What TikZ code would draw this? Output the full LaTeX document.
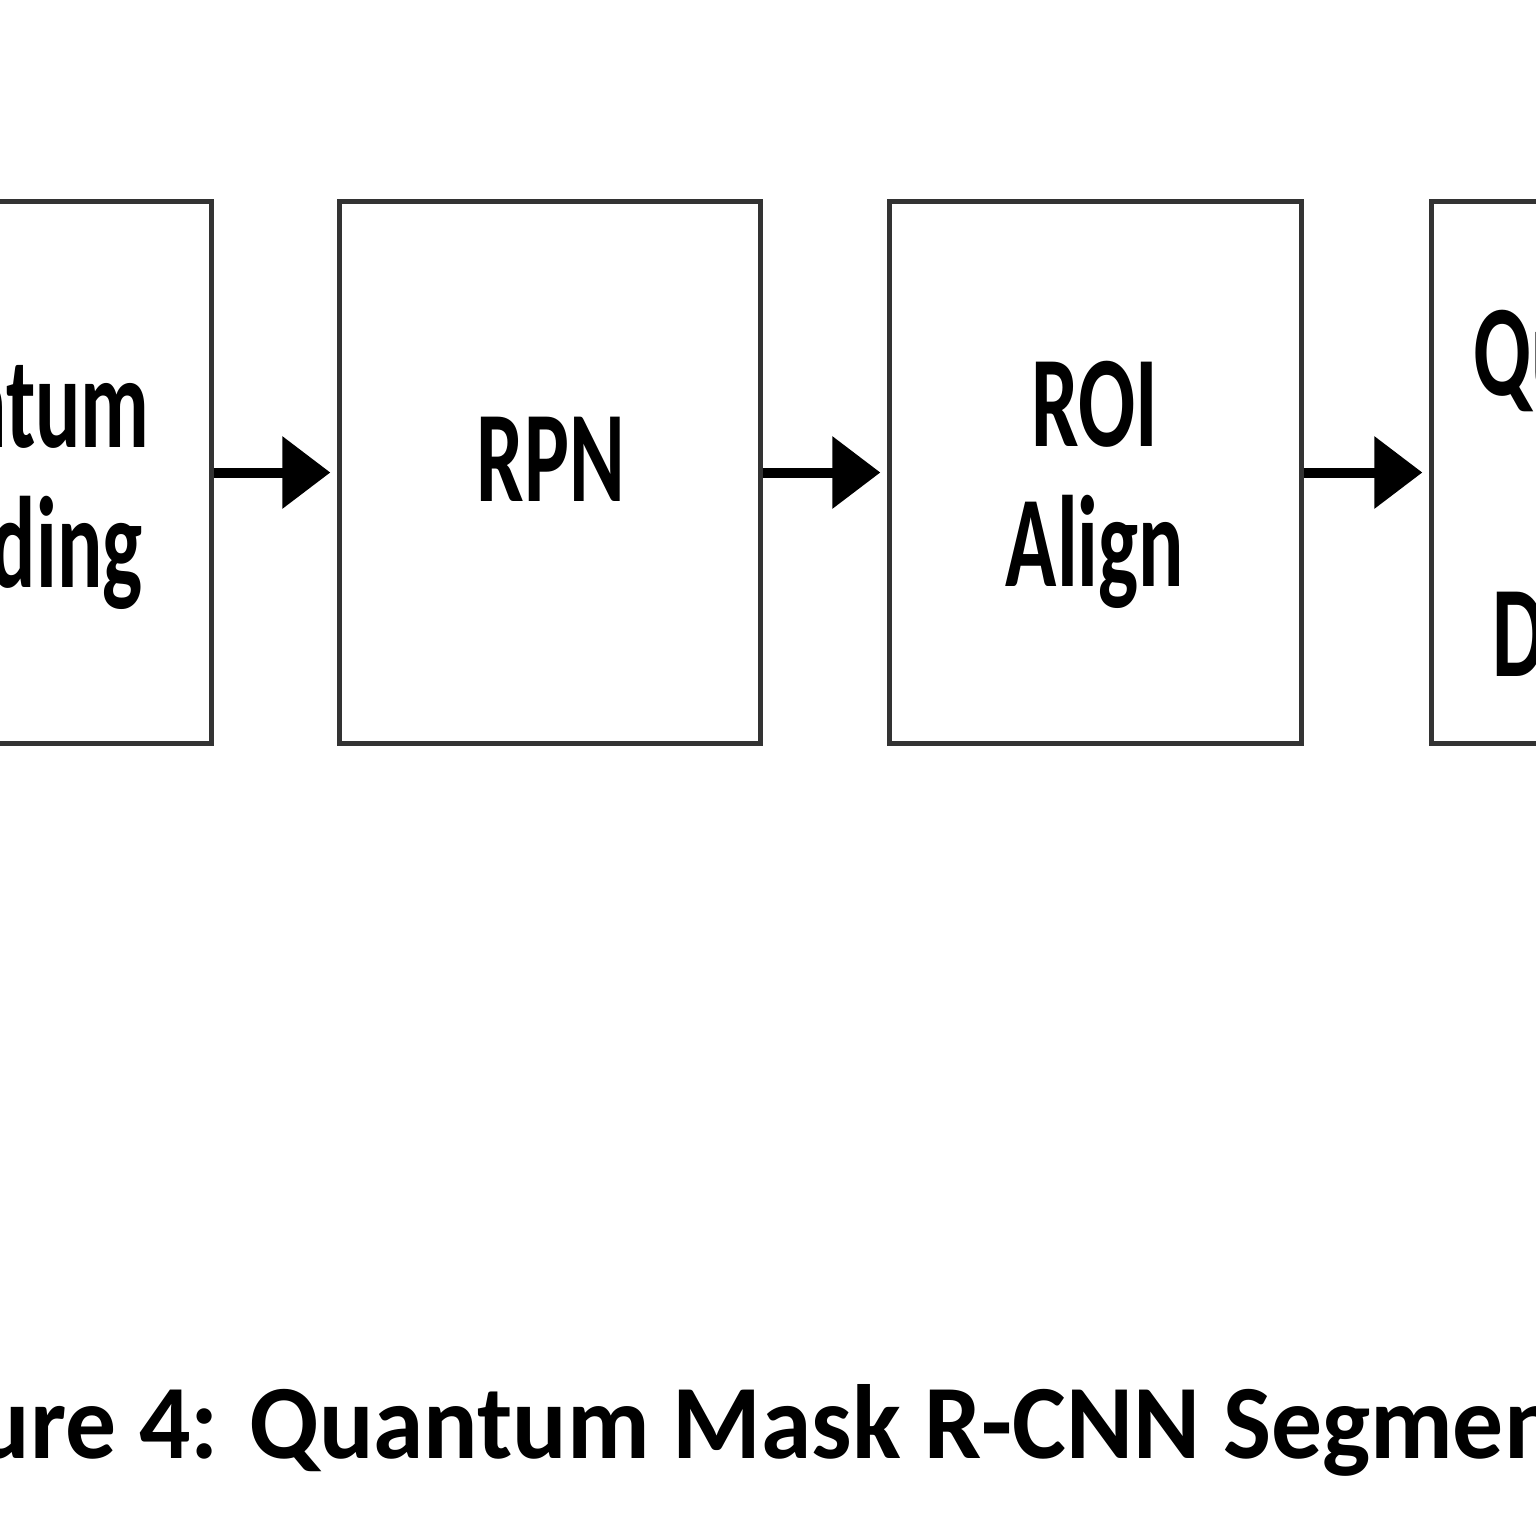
\documentclass[tikz,border=0pt]{standalone}
\usepackage{fontspec}
\setmainfont{Carlito}
\newfontfamily\boxfont[FakeStretch=0.65]{Carlito}
\newfontfamily\capfont[FakeStretch=0.963]{Carlito}
\usetikzlibrary{arrows.meta}

\begin{document}
\begin{tikzpicture}[x=0.01cm,y=-0.01cm,
  block/.style={draw=black!80,line width=0.05cm,minimum height=5.41cm,inner sep=0pt},
  blocktext/.style={inner sep=0pt,align=center,font=\boxfont\bfseries\fontsize{37}{40}\selectfont},
  flow/.style={-{Triangle[length=0.48cm,width=0.7cm]},line width=0.1cm,shorten >=0.07cm}]
\useasboundingbox (0,0) rectangle (1536,1536);
\fill[white] (0,0) rectangle (1536,1536);
\clip (0,0) rectangle (1536,1536);
% boxes
\node[block,minimum width=4.21cm] (enc) at (0.5,472.5) {};
\node[block,minimum width=4.2cm] (rpn) at (550,472.5) {};
\node[block,minimum width=4.11cm] (roi) at (1095.5,472.5) {};
\node[block,minimum width=4.2cm] (dec) at (1642,472.5) {};
% texts
\node[blocktext] (enct) at (-17,486) {Quantum\\Encoding};
\node[blocktext] (rpnt) at (551,459.5) {RPN};
\node[blocktext] (roit) at (1095,485) {ROI\\Align};
\node[blocktext] (dect) at (1640,494) {Quantum\\Mask\\Decoder};
% arrows
\draw[flow] (enc) -- (rpn);
\draw[flow] (rpn) -- (roi);
\draw[flow] (roi) -- (dec);
\node[anchor=base west,inner sep=0pt,font=\capfont\bfseries\fontsize{30}{36}\selectfont] (cap) at (-25,1458) {\llap{Fig}ure 4: Quantum Mask R-CNN Segmentation};
\end{tikzpicture}
\end{document}
